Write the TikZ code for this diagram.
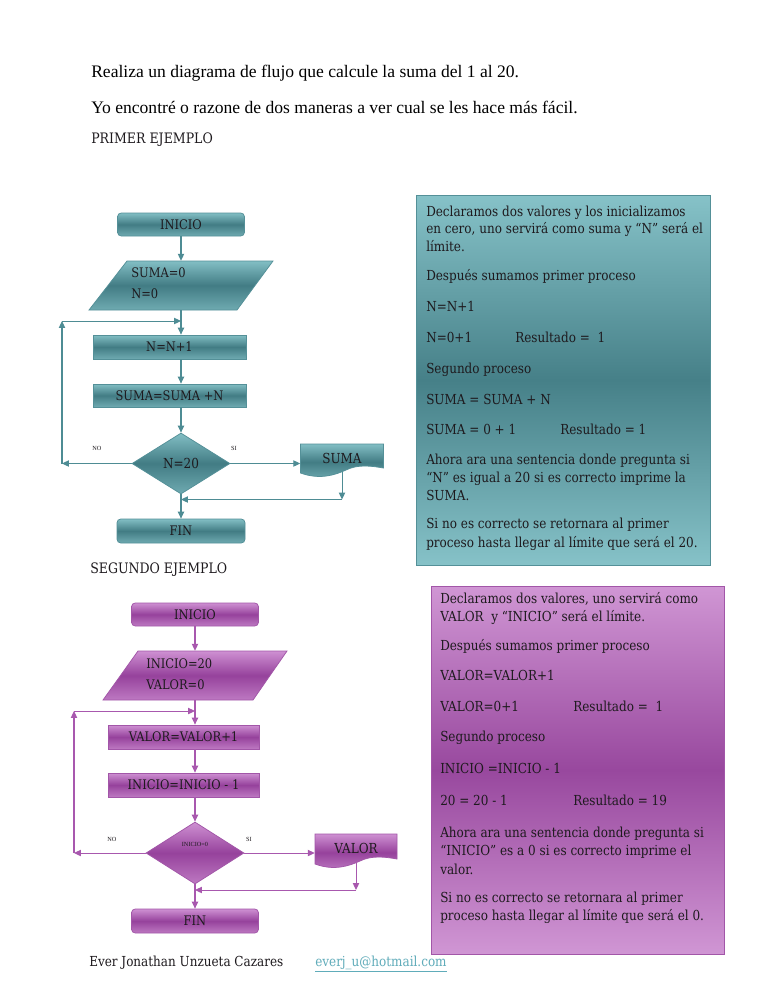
\documentclass[tikz,border=0pt]{standalone}
\usepackage{fontspec}
\setmainfont{Liberation Serif}
\newfontfamily\slab[FakeStretch=0.87]{DejaVu Serif}
\usetikzlibrary{arrows.meta,shapes.geometric}
\definecolor{tealL}{RGB}{130,190,196}
\definecolor{tealD}{RGB}{66,124,132}
\definecolor{tealB}{RGB}{84,144,152}
\definecolor{tealA}{RGB}{78,140,148}
\definecolor{boxTL}{RGB}{134,194,200}
\definecolor{boxTD}{RGB}{70,128,136}
\definecolor{purL}{RGB}{206,144,210}
\definecolor{purD}{RGB}{150,66,156}
\definecolor{purB}{RGB}{162,86,168}
\definecolor{purA}{RGB}{168,88,174}
\definecolor{boxPL}{RGB}{208,150,212}
\definecolor{boxPD}{RGB}{152,72,158}
\definecolor{txt}{RGB}{30,26,30}
\definecolor{mail}{RGB}{96,172,186}
\def\pxu{0.797pt}
\tikzset{
  tshade/.style={top color=tealL, bottom color=tealL!70!tealD, middle color=tealD},
  pshade/.style={top color=purL, bottom color=purL!70!purD, middle color=purD},
  nfont/.style={font=\slab\fontsize{10.5}{12}\selectfont, text=txt},
  tproc/.style={draw=tealB, line width=0.6pt, tshade, nfont, inner sep=0pt},
  pproc/.style={draw=purB, line width=0.6pt, pshade, nfont, inner sep=0pt},
  tterm/.style={tproc, rounded corners=3pt},
  pterm/.style={pproc, rounded corners=3pt},
  tdec/.style={tproc, diamond, shape aspect=1.6, font=\slab\fontsize{11}{12}\selectfont},
  pdec/.style={pproc, diamond, shape aspect=1.6},
  anchorbox/.style={inner sep=0pt, draw=none},
  tarrow/.style={draw=tealA, line width=0.8pt, -{Triangle[length=5.5pt,width=5pt]}},
  parrow/.style={draw=purA, line width=0.8pt, -{Triangle[length=5.5pt,width=5pt]}},
  btxt/.style={anchor=base west, inner sep=0pt, font=\slab\fontsize{11}{13}\selectfont, text=txt},
  ltxt/.style={anchor=base west, inner sep=0pt, nfont},
  tiny/.style={inner sep=0pt, font=\fontsize{5}{6}\selectfont, text=txt},
  title/.style={anchor=base west, inner sep=0pt, font=\fontsize{14}{16}\selectfont, text=black},
  head/.style={anchor=base west, inner sep=0pt, font=\slab\fontsize{11.5}{13}\selectfont, text=txt}
}
\begin{document}
\begin{tikzpicture}[x=0.797pt,y=-0.797pt]
\useasboundingbox (0,0) rectangle (768,994);
\fill[white] (0,0) rectangle (768,994);

% ---------- header ----------
\node[title] (t1) at (91,77) {Realiza un diagrama de flujo que calcule la suma del 1 al 20.};
\node[title] (t2) at (91,113) {Yo encontré o razone de dos maneras a ver cual se les hace más fácil.};
\node[head] (t3) at (91,143) {PRIMER EJEMPLO};
\node[head] (t4) at (90,573) {SEGUNDO EJEMPLO};

% ---------- teal text box ----------
\shade[top color=boxTL, bottom color=boxTL, middle color=boxTD, draw=tealB, line width=0.6pt] (416,195) rectangle (710,565);
\node[btxt] (a1) at (426,216) {Declaramos dos valores y los inicializamos};
\node[btxt] (a2) at (426,233.5) {en cero, uno servirá como suma y “N” será el};
\node[btxt] (a3) at (426,251) {límite.};
\node[btxt] (a4) at (426,280) {Después sumamos primer proceso};
\node[btxt] (a5) at (426,311) {N=N+1};
\node[btxt] (a6) at (426,342) {N=0+1};
\node[btxt] (a6r) at (515,342) {Resultado =\ \ 1};
\node[btxt] (a7) at (426,373) {Segundo proceso};
\node[btxt] (a8) at (426,404) {SUMA = SUMA + N};
\node[btxt] (a9) at (426,434) {SUMA = 0 + 1};
\node[btxt] (a9r) at (560,434) {Resultado = 1};
\node[btxt] (a10) at (426,464) {Ahora ara una sentencia donde pregunta si};
\node[btxt] (a11) at (426,482) {“N” es igual a 20 si es correcto imprime la};
\node[btxt] (a12) at (426,500) {SUMA.};
\node[btxt] (a13) at (426,528) {Si no es correcto se retornara al primer};
\node[btxt] (a14) at (426,547) {proceso hasta llegar al límite que será el 20.};

% ---------- purple text box ----------
\shade[top color=boxPL, bottom color=boxPL, middle color=boxPD, draw=purB, line width=0.6pt] (431,586) rectangle (724,954);
\node[btxt] (b1) at (440,603) {Declaramos dos valores, uno servirá como};
\node[btxt] (b2) at (440,621.5) {VALOR\ \ y “INICIO” será el límite.};
\node[btxt] (b3) at (440,650) {Después sumamos primer proceso};
\node[btxt] (b4) at (440,680) {VALOR=VALOR+1};
\node[btxt] (b5) at (440,711) {VALOR=0+1};
\node[btxt] (b5r) at (573,711) {Resultado =\ \ 1};
\node[btxt] (b6) at (440,741) {Segundo proceso};
\node[btxt] (b7) at (440,773) {INICIO =INICIO - 1};
\node[btxt] (b8) at (440,805) {20 = 20 - 1};
\node[btxt] (b8r) at (573,805) {Resultado = 19};
\node[btxt] (b9) at (440,837) {Ahora ara una sentencia donde pregunta si};
\node[btxt] (b10) at (440,855.5) {“INICIO” es a 0 si es correcto imprime el};
\node[btxt] (b11) at (440,874) {valor.};
\node[btxt] (b12) at (440,902) {Si no es correcto se retornara al primer};
\node[btxt] (b13) at (440,920) {proceso hasta llegar al límite que será el 0.};

% ---------- flowchart 1 (teal) ----------
\node[tterm, minimum width=127*\pxu, minimum height=23*\pxu] (i1) at (181,224.5) {INICIO};
\shade[tshade, draw=tealB, line width=0.6pt] (127,261) -- (273,261) -- (237,310) -- (89,310) -- cycle;
\node[anchorbox, minimum width=146*\pxu, minimum height=49*\pxu] (p1) at (181,285.5) {};
\node[ltxt] (p1a) at (131,277) {SUMA=0};
\node[ltxt] (p1b) at (131,298) {N=0};
\node[tproc, minimum width=153*\pxu, minimum height=24*\pxu] (n1) at (169.5,347) {N=N+1};
\node[tproc, minimum width=153*\pxu, minimum height=23*\pxu] (s1) at (169.5,395.5) {SUMA=SUMA +N};
\node[tdec, minimum width=98*\pxu, minimum height=61*\pxu] (c1) at (181,463.5) {N=20};
\shade[tshade, draw=tealB, line width=0.6pt] (300.5,444) -- (383.5,444) -- (383.5,468) .. controls (372,466) and (358,464) .. (346,470) .. controls (335,475) and (320,480) .. (300.5,473) -- cycle;
\node[anchorbox, minimum width=83*\pxu, minimum height=28*\pxu, font=\slab\fontsize{11}{12}\selectfont, text=txt] (d1) at (342,458) {SUMA};
\node[tterm, minimum width=128*\pxu, minimum height=24*\pxu] (f1) at (181,531) {FIN};
\node[tiny] (no1) at (97,448) {NO};
\node[tiny] (si1) at (234,448) {SI};
\coordinate (l1) at (62,463.5);
\coordinate (l2) at (62,321);
\coordinate (m1) at (181,321);
\coordinate (l3) at (342,499.5);
\coordinate (m2) at (181,499.5);
\draw[tarrow] (i1.south) -- (p1.north);
\draw[tarrow] (p1.south) -- (p1.south |- n1.north);
\draw[tarrow] (n1.south -| p1.south) -- (p1.south |- s1.north);
\draw[tarrow] (s1.south -| p1.south) -- (c1.north);
\draw[tarrow] (c1.west) -- (l1);
\draw[tarrow] (l1) -- (l2);
\draw[tarrow] (l2) -- (m1);
\draw[tarrow] (c1.east) -- (c1.east -| d1.west);
\draw[tarrow] (d1.south) -- (l3);
\draw[tarrow] (l3) -- (m2);
\draw[tarrow] (c1.south) -- (f1.north);

% ---------- flowchart 2 (purple) ----------
\node[pterm, minimum width=127*\pxu, minimum height=23*\pxu] (i2) at (195,614.5) {INICIO};
\shade[pshade, draw=purB, line width=0.6pt] (138,651) -- (287,651) -- (253,700) -- (103,700) -- cycle;
\node[anchorbox, minimum width=150*\pxu, minimum height=49*\pxu] (p2) at (195,675.5) {};
\node[ltxt] (p2a) at (146,668) {INICIO=20};
\node[ltxt] (p2b) at (146,689) {VALOR=0};
\node[pproc, minimum width=151*\pxu, minimum height=24*\pxu] (n2) at (183.5,737) {VALOR=VALOR+1};
\node[pproc, minimum width=151*\pxu, minimum height=24*\pxu] (s2) at (183.5,785) {INICIO=INICIO - 1};
\node[pdec, minimum width=98*\pxu, minimum height=62*\pxu] (c2) at (195,853) {};
\node[tiny] (c2t) at (195,844) {INICIO=0};
\shade[pshade, draw=purB, line width=0.6pt] (315,834) -- (397,834) -- (397,859) .. controls (386,857) and (372,855) .. (360,861) .. controls (349,866) and (334,871) .. (315,864) -- cycle;
\node[anchorbox, minimum width=82*\pxu, minimum height=28*\pxu, font=\slab\fontsize{11}{12}\selectfont, text=txt] (d2) at (356,848) {VALOR};
\node[pterm, minimum width=127*\pxu, minimum height=24*\pxu] (f2) at (195,921) {FIN};
\node[tiny] (no2) at (112,839) {NO};
\node[tiny] (si2) at (249,839) {SI};
\coordinate (l4) at (74,853);
\coordinate (l5) at (74,711);
\coordinate (m3) at (195,711);
\coordinate (l6) at (356,890);
\coordinate (m4) at (195,890);
\draw[parrow] (i2.south) -- (p2.north);
\draw[parrow] (p2.south) -- (p2.south |- n2.north);
\draw[parrow] (n2.south -| p2.south) -- (p2.south |- s2.north);
\draw[parrow] (s2.south -| p2.south) -- (c2.north);
\draw[parrow] (c2.west) -- (l4);
\draw[parrow] (l4) -- (l5);
\draw[parrow] (l5) -- (m3);
\draw[parrow] (c2.east) -- (c2.east -| d2.west);
\draw[parrow] (d2.south) -- (l6);
\draw[parrow] (l6) -- (m4);
\draw[parrow] (c2.south) -- (f2.north);

% ---------- footer ----------
\node[btxt] (t5) at (89,966) {Ever Jonathan Unzueta Cazares};
\node[btxt, text=mail] (t6) at (315,966) {\underline{everj\_u@hotmail.com}};
\end{tikzpicture}
\end{document}
